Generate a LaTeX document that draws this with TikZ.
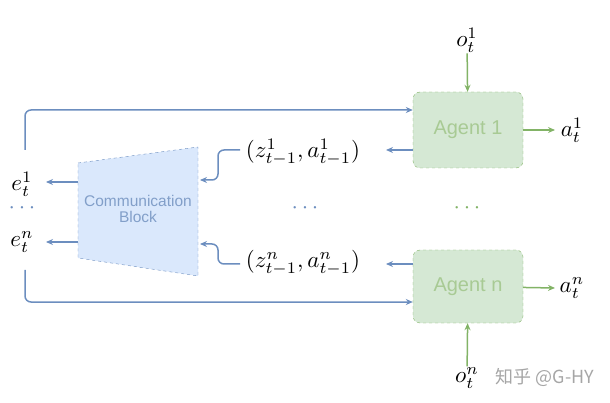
\documentclass[tikz,border=0pt]{standalone}
\usepackage{fontspec}
\newfontfamily\sansf{Liberation Sans}
\newfontfamily\cjk{Noto Sans CJK SC}
\usetikzlibrary{arrows.meta}
\definecolor{bl}{HTML}{6C8EBF}
\definecolor{blf}{HTML}{DAE8FC}
\definecolor{gr}{HTML}{82B366}
\definecolor{grf}{HTML}{D5E8D4}
\newcommand{\mymath}[1]{\scalebox{2.3}{$#1$}}
\begin{document}
\begin{tikzpicture}[x=1pt,y=-1pt,
  ba/.style={draw=bl,line width=1.5pt,-{Stealth[length=7pt,width=6pt]},rounded corners=6pt},
  ga/.style={draw=gr,line width=1.5pt,-{Stealth[length=7pt,width=6pt]}},
  agent/.style={draw=gr,dashed,fill=grf,rounded corners=7pt,minimum width=110pt,minimum height=76pt},
  m/.style={inner sep=1pt}]
\useasboundingbox (0,0) rectangle (610,403);
\node[agent] (A1) at (468,130) {\textcolor{white!30!gr}{\scalebox{2.0}{\sansf Agent 1}}};
\node[agent,minimum height=73pt] (An) at (468,286.5) {\textcolor{white!30!gr}{\scalebox{2.0}{\sansf Agent n}}};
\draw[bl,dashed,fill=blf] (78,163) -- (198,147) -- (198,276) -- (78,258) -- cycle;
\node[text=bl!85,align=center] (cb) at (138,211) {\scalebox{1.55}{\sansf\begin{tabular}{c}Communication\\[-2pt]Block\end{tabular}}};
\coordinate (cbl1) at (78,182); \coordinate (cbl2) at (78,242);
\coordinate (cbr1) at (200,180); \coordinate (cbr2) at (200,244);
\node[m] (o1) at (467,40) {\mymath{o_t^1}};
\node[m] (on) at (467,378) {\mymath{o_t^n}};
\node[m] (a1) at (572,130) {\mymath{a_t^1}};
\node[m] (an) at (572,288) {\mymath{a_t^n}};
\node[m] (e1) at (22,184) {\mymath{e_t^1}};
\node[m] (en) at (22,242) {\mymath{e_t^n}};
\node[m] (z1) at (303,152) {\mymath{(z_{t-1}^1,a_{t-1}^1)}};
\node[m] (zn) at (303,263) {\mymath{(z_{t-1}^n,a_{t-1}^n)}};
\node[text=bl] (d1) at (22,208) {\scalebox{2.3}{$\cdots$}};
\node[text=bl] (d2) at (305,208) {\scalebox{2.3}{$\cdots$}};
\node[text=gr] (d3) at (467,208) {\scalebox{2.3}{$\cdots$}};
\draw[ga] (o1) -- (A1);
\draw[ga] (on) -- (An);
\draw[ga] (A1) -- (555,130);
\draw[ga] (An) -- (555,288);
\draw[ba] (A1.west|-0,150) -- (386,150);
\draw[ba] (An.west|-0,264) -- (386,264);
\draw[ba] (cbl1) -- (46,182);
\draw[ba] (cbl2) -- (46,242);
\draw[ba] (240,150) -- (218,150) -- (218,180) -- (cbr1);
\draw[ba] (240,264) -- (218,264) -- (218,244) -- (cbr2);
\draw[ba] (25,150) -- (25,110) -- (A1.west|-0,110);
\draw[ba] (25,270) -- (25,302) -- (An.west|-0,302);
\node[text=gray!70] (wm) at (545,377) {\scalebox{1.8}{\cjk 知乎 @G-HY}};
\end{tikzpicture}
\end{document}
